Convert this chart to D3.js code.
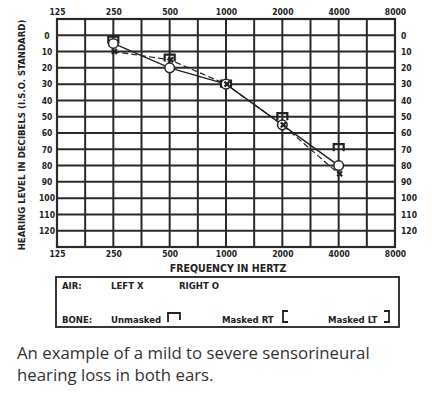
<!DOCTYPE html>
<html>
<head>
<meta charset="utf-8">
<script src="https://cdn.jsdelivr.net/npm/d3@7"></script>
<style>
body { margin: 0; background: #fff; }
svg text { font-family: "Liberation Sans Narrow", "DejaVu Sans Condensed", sans-serif; font-weight: bold; fill: #222; }
svg text.caption { font-family: "Open Sans", "Noto Sans", sans-serif; font-weight: normal; fill: #333; }
</style>
</head>
<body>
<div id="entry"></div>
<script>
// frequencies (Hz) and levels (dB HL)
var freqs = [250, 500, 1000, 2000, 4000];
var rightAir = [5, 20, 30, 55, 80];
var leftAir = [10, 15, 30, 55, 85];
var boneUnmasked = [3, 14, 30, 50, 69];

var freqTicks = [125, 250, 500, 1000, 2000, 4000, 8000];
var dbTicks = [0, 10, 20, 30, 40, 50, 60, 70, 80, 90, 100, 110, 120];

var width = 432, height = 411;

var x = d3.scaleLog().base(2).domain([125, 8000]).range([57, 395]);
var y = d3.scaleLinear().domain([-10, 130]).range([19, 247]);

var svg = d3.select("#entry").append("svg")
  .attr("width", width)
  .attr("height", height);

var ink = "#222";
var gridInk = "#2a2a2a";

// grid: octave + half-octave verticals
var vlines = [];
freqTicks.forEach(function(f, i) {
  vlines.push(f);
  if (i < freqTicks.length - 1) vlines.push(Math.sqrt(f * freqTicks[i + 1]));
});

svg.append("g").selectAll("line.v")
  .data(vlines)
  .enter().append("line")
  .attr("x1", d => x(d)).attr("x2", d => x(d))
  .attr("y1", y(-10)).attr("y2", y(130))
  .attr("stroke", gridInk).attr("stroke-width", 2);

svg.append("g").selectAll("line.h")
  .data(dbTicks)
  .enter().append("line")
  .attr("x1", x(125)).attr("x2", x(8000))
  .attr("y1", d => y(d)).attr("y2", d => y(d))
  .attr("stroke", gridInk).attr("stroke-width", 2);

svg.append("rect")
  .attr("x", x(125)).attr("y", y(-10))
  .attr("width", x(8000) - x(125)).attr("height", y(130) - y(-10))
  .attr("fill", "none").attr("stroke", gridInk).attr("stroke-width", 2.2);

// axes
var topAxis = d3.axisTop(x).tickValues(freqTicks).tickSize(0).tickPadding(4).tickFormat(d3.format("d"));
var bottomAxis = d3.axisBottom(x).tickValues(freqTicks).tickSize(0).tickPadding(4).tickFormat(d3.format("d"));
var leftAxis = d3.axisLeft(y).tickValues(dbTicks).tickSize(0).tickPadding(5);
var rightAxis = d3.axisRight(y).tickValues(dbTicks).tickSize(0).tickPadding(6);

function styleAxis(g) {
  g.select(".domain").remove();
  g.selectAll("text").attr("font-size", 8.5).attr("font-family", null).style("fill", ink);
}

svg.append("g").attr("transform", "translate(0," + y(-10) + ")").call(topAxis).call(styleAxis);
svg.append("g").attr("transform", "translate(0," + y(130) + ")").call(bottomAxis).call(styleAxis);
svg.append("g").attr("transform", "translate(" + x(125) + ",0)").call(leftAxis).call(styleAxis)
  .selectAll("text").attr("text-anchor", "middle").attr("dx", "-5");
svg.append("g").attr("transform", "translate(" + x(8000) + ",0)").call(rightAxis).call(styleAxis);

svg.append("text")
  .attr("x", 228).attr("y", 272)
  .attr("text-anchor", "middle")
  .attr("font-size", 10.5)
  .text("FREQUENCY IN HERTZ");

svg.append("text")
  .attr("transform", "translate(25,135) rotate(-90)")
  .attr("text-anchor", "middle")
  .attr("font-size", 9.5)
  .text("HEARING LEVEL IN DECIBELS (I.S.O. STANDARD)");

// lines
var line = d3.line().x(d => x(d[0])).y(d => y(d[1]));
var rightPts = freqs.map((f, i) => [f, rightAir[i]]);
var leftPts = freqs.map((f, i) => [f, leftAir[i]]);
var bonePts = freqs.map((f, i) => [f, boneUnmasked[i]]);

svg.append("path").datum(leftPts)
  .attr("d", line).attr("fill", "none")
  .attr("stroke", ink).attr("stroke-width", 1.2).attr("stroke-dasharray", "6,3");
svg.append("path").datum(rightPts)
  .attr("d", line).attr("fill", "none")
  .attr("stroke", ink).attr("stroke-width", 1.4);

// bone unmasked brackets
function bracket(g, w, h) {
  g.append("path")
    .attr("d", "M" + (-w / 2) + "," + (h / 2) + "V" + (-h / 2) + "H" + (w / 2) + "V" + (h / 2))
    .attr("fill", "none").attr("stroke", ink).attr("stroke-width", 2.2);
}
svg.append("g").selectAll("g")
  .data(bonePts).enter().append("g")
  .attr("transform", d => "translate(" + x(d[0]) + "," + y(d[1]) + ")")
  .each(function() { bracket(d3.select(this), 10, 7); });

// right circles
svg.append("g").selectAll("circle")
  .data(rightPts).enter().append("circle")
  .attr("cx", d => x(d[0])).attr("cy", d => y(d[1]))
  .attr("r", 4.8).attr("fill", "#fff")
  .attr("stroke", ink).attr("stroke-width", 1.5);

// left X
var xs = svg.append("g").selectAll("g")
  .data(leftPts).enter().append("g")
  .attr("transform", d => "translate(" + (x(d[0]) + 1) + "," + y(d[1]) + ")");
xs.append("path")
  .attr("d", "M-2.5,-2.5L2.5,2.5M-2.5,2.5L2.5,-2.5")
  .attr("stroke", ink).attr("stroke-width", 2.2);

// legend box
var leg = svg.append("g");
leg.append("rect")
  .attr("x", 56).attr("y", 277).attr("width", 343).attr("height", 50)
  .attr("fill", "none").attr("stroke", ink).attr("stroke-width", 1.8);

var legFont = 9.5;
leg.append("text").attr("x", 62).attr("y", 289).attr("font-size", legFont).text("AIR:");
leg.append("text").attr("x", 111).attr("y", 289).attr("font-size", legFont).text("LEFT X");
leg.append("text").attr("x", 179).attr("y", 289).attr("font-size", legFont).text("RIGHT O");
leg.append("text").attr("x", 62).attr("y", 323).attr("font-size", legFont).text("BONE:");
leg.append("text").attr("x", 111).attr("y", 323).attr("font-size", legFont).text("Unmasked");
leg.append("text").attr("x", 222).attr("y", 323).attr("font-size", legFont).text("Masked RT");
leg.append("text").attr("x", 328).attr("y", 323).attr("font-size", legFont).text("Masked LT");

leg.append("path").attr("d", "M168,322V313H180V320")
  .attr("fill", "none").attr("stroke", ink).attr("stroke-width", 1.8);
leg.append("path").attr("d", "M288,311H283V322H288")
  .attr("fill", "none").attr("stroke", ink).attr("stroke-width", 1.8);
leg.append("path").attr("d", "M384,311H389V322H384")
  .attr("fill", "none").attr("stroke", ink).attr("stroke-width", 1.8);

// caption
var caption = ["An example of a mild to severe sensorineural", "hearing loss in both ears."];
svg.append("g").selectAll("text")
  .data(caption).enter().append("text")
  .attr("class", "caption")
  .attr("x", 17).attr("y", (d, i) => 359 + i * 22)
  .attr("font-size", 16.8)
  .text(d => d);
</script>
</body>
</html>
